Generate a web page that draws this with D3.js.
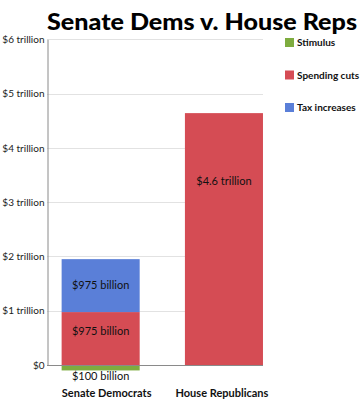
<!DOCTYPE html>
<html><head><meta charset="utf-8">
<script src="https://cdn.jsdelivr.net/npm/d3@7"></script>
<style>
html,body{margin:0;padding:0;background:#fff;}
svg{display:block;font-family:Lato,"Open Sans",sans-serif;}
</style></head>
<body><svg id="c" width="360" height="400"></svg>
<script>
const title = "Senate Dems v. House Reps";
const categories = ["Senate Democrats", "House Republicans"];
const seriesNames = ["Stimulus", "Spending cuts", "Tax increases"];
const stimulus = [-0.1, 0];
const spendingCuts = [0.975, 4.64];
const taxIncreases = [0.975, 0];
const segmentLabels = [["$100 billion", ""], ["$975 billion", "$4.6 trillion"], ["$975 billion", ""]];
const yTicks = [0, 1, 2, 3, 4, 5, 6];
const yTickLabels = ["$0", "$1 trillion", "$2 trillion", "$3 trillion", "$4 trillion", "$5 trillion", "$6 trillion"];
const colors = ["#7eac3f", "#d54c54", "#5a7fd8"];

const svg = d3.select("#c");
const y = d3.scaleLinear().domain([0, 6]).range([365, 39.3]);
const x = d3.scaleBand().domain(categories).range([39, 285.6]).paddingInner(0.367).paddingOuter(0.1835);
const gridX0 = 47, gridX1 = 263;

// title
svg.append("text").attr("x", 357).attr("y", 30).attr("text-anchor", "end")
  .attr("font-size", 23).attr("font-weight", 900).attr("fill", "#000")
  .attr("textLength", 310).attr("lengthAdjust", "spacingAndGlyphs").text(title);

// gridlines
const g = svg.append("g");
g.selectAll("line.grid").data(yTicks.filter(d => d > 0)).join("line")
  .attr("x1", gridX0).attr("x2", gridX1)
  .attr("y1", d => Math.round(y(d)) + 0.5).attr("y2", d => Math.round(y(d)) + 0.5)
  .attr("stroke", "#e2e2e2").attr("stroke-width", 1);

// y axis
const yAxis = d3.axisLeft(y).tickValues(yTicks).tickFormat((d, i) => yTickLabels[i]).tickSize(0).tickPadding(3);
const ax = svg.append("g").attr("transform", `translate(${gridX0 + 0.5},0)`).call(yAxis);
ax.select(".domain").attr("stroke", "#8a8a8a");
ax.selectAll("text").attr("font-size", 10).attr("fill", "#222").attr("font-family", "Lato, sans-serif");

// stacked bars
const series = [stimulus, spendingCuts, taxIncreases];
const labelOffsets = [0, -7, 0];
const houseLabelOffset = -58;
categories.forEach((cat, ci) => {
  let pos = 0;
  series.forEach((s, si) => {
    const v = s[ci];
    if (v === 0) return;
    let y0, y1;
    if (v < 0) { y0 = 0; y1 = v; } else { y0 = pos; y1 = pos + v; pos += v; }
    const top = y(Math.max(y0, y1)), bot = y(Math.min(y0, y1));
    svg.append("rect").attr("x", x(cat)).attr("width", x.bandwidth())
      .attr("y", top).attr("height", bot - top).attr("fill", colors[si]);
    const lab = segmentLabels[si][ci];
    if (lab) {
      let ly;
      if (v < 0) ly = bot + 6;
      else ly = (top + bot) / 2 + (ci === 1 ? houseLabelOffset : labelOffsets[si]);
      svg.append("text").attr("x", x(cat) + x.bandwidth() / 2).attr("y", ly)
        .attr("dy", "0.35em").attr("text-anchor", "middle").attr("font-size", 11)
        .attr("fill", "#111").text(lab);
    }
  });
});

// baseline
svg.append("line").attr("x1", gridX0).attr("x2", gridX1).attr("y1", y(0) + 0.5).attr("y2", y(0) + 0.5)
  .attr("stroke", "#8a8a8a");

// category labels
svg.selectAll("text.cat").data(categories).join("text").attr("class", "cat")
  .attr("x", d => x(d) + x.bandwidth() / 2 + (d === categories[1] ? -2 : 6)).attr("y", 397)
  .attr("text-anchor", "middle").attr("font-size", 11).attr("font-weight", 700).attr("fill", "#111").text(d => d);

// legend
const leg = svg.append("g").attr("transform", "translate(285,38)");
seriesNames.forEach((n, i) => {
  const r = leg.append("g").attr("transform", `translate(0,${i * 32.5})`);
  r.append("rect").attr("width", 9).attr("height", 9).attr("fill", colors[i]);
  r.append("text").attr("x", 12).attr("y", 4.5).attr("dy", "0.35em").attr("font-size", 10)
    .attr("font-weight", 700).attr("fill", "#111").text(n);
});
</script></body></html>
